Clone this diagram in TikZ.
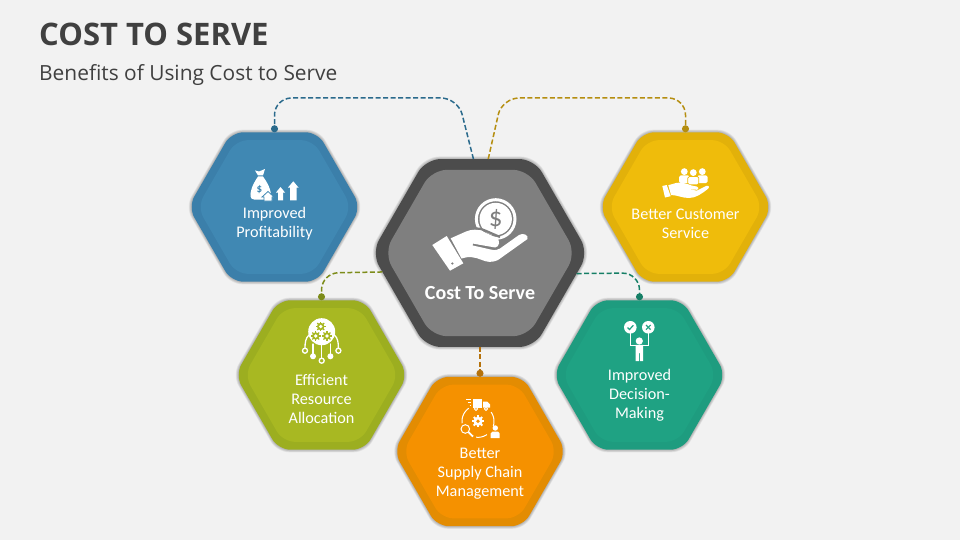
\documentclass[tikz,border=0pt]{standalone}
\usepackage{fontspec}
\setmainfont{Carlito}
\newfontfamily\headfont{Open Sans}
\usetikzlibrary{shapes.geometric,arrows.meta}

\definecolor{pagebg}{HTML}{F2F2F2}
\definecolor{headcol}{HTML}{404040}
\definecolor{blueout}{HTML}{3B7FAA}
\definecolor{bluein}{HTML}{4088B3}
\definecolor{blueline}{HTML}{2A6A8C}
\definecolor{yellowout}{HTML}{E2B10A}
\definecolor{yellowin}{HTML}{EFBC0B}
\definecolor{yellowline}{HTML}{B58E10}
\definecolor{greenout}{HTML}{9CAE20}
\definecolor{greenin}{HTML}{A8B822}
\definecolor{greenline}{HTML}{7D8C1A}
\definecolor{orangeout}{HTML}{E38C02}
\definecolor{orangein}{HTML}{F59100}
\definecolor{orangeline}{HTML}{B5720C}
\definecolor{tealout}{HTML}{1E9C7F}
\definecolor{tealin}{HTML}{1FA283}
\definecolor{tealline}{HTML}{167F66}
\definecolor{costout}{HTML}{4C4C4C}
\definecolor{costin}{HTML}{7F7F7F}

\tikzset{
	hexshape/.style={regular polygon,regular polygon sides=6,inner sep=0pt,outer sep=0pt},
	hexlabel/.style={text=white,align=center,font=\fontsize{16.2}{19}\selectfont},
	linkline/.style={line width=1.5pt,dash pattern=on 5pt off 2.5pt,rounded corners=17pt,-{Circle[length=7pt,width=7pt]}},
	stemline/.style={line width=1.3pt,white,line cap=round},
}

\newcommand{\hexblock}[7]{
	\foreach \grow in {.6,1.2,1.8,2.4,3}
		\node[hexshape,fill=black,fill opacity=.055,rounded corners=#6pt,minimum size=#3pt+\grow*2pt] at #2 {};
	\node[hexshape,fill=#4,rounded corners=#6pt,minimum size=#3pt] (#1) at #2 {};
	\node[hexshape,fill=#5,rounded corners=#6pt,minimum size=#3pt*#7] (#1in) at #2 {};
}

\begin{document}
\begin{tikzpicture}[x=1pt,y=-1pt]
	\useasboundingbox[fill=pagebg] (0,0) rectangle (960,540);

	\node[anchor=base west,inner sep=0pt,text=headcol,font=\headfont\bfseries\fontsize{31}{36}\selectfont] (title) at (39,46) {COST TO SERVE};
	\node[anchor=base west,inner sep=0pt,text=headcol,font=\headfont\fontsize{20.9}{24}\selectfont] (subtitle) at (39,80.5) {Benefits of Using Cost to Serve};

	\hexblock{blue}{(274.5,207)}{172.5}{blueout}{bluein}{12}{.895}
	\hexblock{yellow}{(685.5,207)}{172.5}{yellowout}{yellowin}{12}{.895}
	\hexblock{green}{(321.5,375)}{172.5}{greenout}{greenin}{12}{.895}
	\hexblock{orange}{(480,451.5)}{172.5}{orangeout}{orangein}{12}{.895}
	\hexblock{teal}{(639.5,375)}{172.5}{tealout}{tealin}{12}{.895}
	\hexblock{cost}{(480,253)}{217}{costout}{costin}{15}{.885}

	\coordinate (blueturn) at (458,98);
	\coordinate (blueover) at (274.5,98);
	\coordinate (yellowturn) at (502,98);
	\coordinate (yellowover) at (685.5,98);
	\coordinate (greenover) at (321.5,273);
	\coordinate (tealover) at (639.5,273);
	\coordinate (truckring) at (478,421.3);
	\draw[linkline,draw=blueline,blueline] (cost.94.3) -- (blueturn) -- (blueover) -- (blue.north);
	\draw[linkline,draw=yellowline,yellowline] (cost.85.7) -- (yellowturn) -- (yellowover) -- (yellow.north);
	\draw[linkline,draw=greenline,greenline] (cost.191.65) -- (greenover) -- (green.north);
	\draw[linkline,draw=tealline,tealline] (cost.348.35) -- (tealover) -- (teal.north);
	\draw[linkline,draw=orangeline,orangeline] (cost.south) -- (orange.north);

	\node[hexlabel] (bluetext) at (274.5,224) {Improved\\Profitability};
	\node[hexlabel] (yellowtext) at (685.5,224) {Better Customer\\Service};
	\node[hexlabel] (greentext) at (321.5,399) {Efficient\\Resource\\Allocation};
	\node[hexlabel] (orangetext) at (480,473.5) {Better\\Supply Chain\\Management};
	\node[hexlabel] (tealtext) at (639.5,395.5) {Improved\\Decision-\\Making};
	\node[text=white,font=\bfseries\fontsize{20}{22}\selectfont] (costtext) at (480,293.5) {Cost To Serve};

	% hand with coin
	\draw[white,line width=3pt] (495.7,219) circle (19.3);
	\fill[white] (495.7,219) circle (16.2);
	\node[text=costin,font=\fontsize{27}{27}\selectfont] (costsign) at (495.7,219) {\$};
	\fill[white] (432.3,245) -- (446.7,236) -- (463.3,263.3) -- (450,270.7) -- cycle;
	\fill[costin] (452.3,263.5) circle (1.2);
	\draw[costin,line width=2.2pt] (464,231) .. controls (472,227.5) and (478,227.5) .. (485,230.5) -- (500,237);
	\fill[white] (450.7,238.3) -- (466,231.5) .. controls (472,229) and (478,229) .. (484,232) -- (497,238) .. controls (500,240) and (500,247) .. (495,247.5) -- (473,243.6) -- (472.5,245.4) -- (491,249.6) .. controls (495,250.5) and (498,250) .. (500,248.5) -- (519,235) .. controls (523,232.5) and (529,235) .. (527.5,239) -- (498,260) .. controls (491,263) and (487,262) .. (482,260) .. controls (475,257) and (468,256) .. (461.5,258.5) -- cycle;

	% money bag with arrows
	\fill[white] (255,170.5) -- (259,171.5) -- (265,169) -- (263,175.5) -- (258,175.5) -- cycle;
	\fill[white] (258,176.5) -- (263,176.5) .. controls (267,182) and (272,190) .. (271,199.5) -- (254,199.5) .. controls (250,199.5) and (250,195) .. (251,191) .. controls (252,186) and (255,181) .. (258,176.5) -- cycle;
	\node[text=bluein,font=\bfseries\fontsize{11}{11}\selectfont] (bagsign) at (259.5,190) {\$};
	\filldraw[white,draw=bluein,line width=.8pt] (262,197) -- (268,191.5) -- (274,197) -- (272,197) -- (272,201) -- (264,201) -- (264,197) -- cycle;
	\fill[white] (280.5,187) -- (285,192.5) -- (283,192.5) -- (283,200.3) -- (278,200.3) -- (278,192.5) -- (276,192.5) -- cycle;
	\fill[white] (293.3,181.3) -- (298.5,187.5) -- (296.5,187.5) -- (296.5,200.3) -- (290,200.3) -- (290,187.5) -- (288,187.5) -- cycle;

	% people on a hand
	\foreach \px/\py in {684.3/171.6,702.3/171.6} {
		\fill[white] (\px,\py) circle (3.4);
		\fill[white,rounded corners=1.5pt] (\px-5.2,\py+3.8) rectangle (\px+5.2,\py+11.5);
	}
	\fill[white] (693.3,172.6) circle (3.4);
	\filldraw[white,draw=yellowin,line width=.7pt,rounded corners=1.5pt] (687.8,176.5) rectangle (698.8,184.8);
	\fill[white] (662.3,186) -- (666.7,185) -- (670.7,196.2) -- (665,197.5) -- cycle;
	\fill[white] (668.3,185.2) -- (676,183) .. controls (681,181.8) and (686,183.5) .. (692,185.6) -- (697,186.6) .. controls (699,187) and (699,189.4) .. (697,189.8) -- (686,189) -- (697,190.6) -- (706,186) .. controls (708.5,185) and (710,187) .. (708,188.8) .. controls (702,193.5) and (696,198) .. (689,198) .. controls (682,198) and (677,195) .. (671,195) -- cycle;

	% gears and circuit
	\fill[white] (321.7,331.7) circle (13.5);
	\foreach \gx/\gy in {320.7/326.5,315.7/336,326.9/336} {
		\foreach \ang in {0,45,...,315}
			\draw[greenin,line width=1.2pt] (\gx,\gy) -- ++(\ang:4.9);
		\fill[greenin] (\gx,\gy) circle (3.7);
		\fill[white] (\gx,\gy) circle (1.9);
	}
	\draw[stemline] (321.7,345) -- (321.7,358);
	\draw[stemline] (313,344) -- (313,354);
	\draw[stemline] (330.4,344) -- (330.4,354);
	\draw[stemline] (309,335) .. controls (305.5,338) and (305,343) .. (305,348);
	\draw[stemline] (334.4,335) .. controls (337.9,338) and (338.4,343) .. (338.4,348);
	\fill[white] (313,356.3) circle (3);
	\fill[white] (330.4,356.3) circle (3);
	\draw[white,line width=1.3pt,fill=greenin] (321.7,360.7) circle (2.5);
	\draw[white,line width=1.3pt,fill=greenin] (305,350.7) circle (2.5);
	\draw[white,line width=1.3pt,fill=greenin] (338.4,350.7) circle (2.5);

	% truck, gear, lens and person
	\fill[white] (473,399) rectangle (482.3,407.5);
	\fill[white] (483.2,401.5) -- (487,401.5) -- (490,404.5) -- (490,407.5) -- (483.2,407.5) -- cycle;
	\draw[white,line width=.9pt,fill=orangein] (476,408.8) circle (1.6);
	\draw[white,line width=.9pt,fill=orangein] (486,408.8) circle (1.6);
	\draw[white,line width=.8pt] (466.3,399.7) -- (471.3,399.7);
	\draw[white,line width=.8pt] (468,402.3) -- (471.3,402.3);
	\draw[white,line width=.8pt] (469.7,405) -- (471.3,405);
	\draw[smooth,white,line width=1pt] plot[domain=173:235,samples=12] ({478+16*cos(\x)},{421.3+16*sin(\x)});
	\draw[smooth,white,line width=1pt] plot[domain=-35:17,samples=12] ({478+16*cos(\x)},{421.3+16*sin(\x)});
	\draw[smooth,white,line width=1pt] plot[domain=56:97,samples=8] ({478+16*cos(\x)},{421.3+16*sin(\x)});
	\foreach \ang in {0,45,...,315}
		\draw[white,line width=2pt] (truckring) -- ++(\ang:6);
	\fill[white] (truckring) circle (4.6);
	\fill[orangein] (truckring) circle (1.9);
	\draw[white,line width=1pt] (465.3,429) circle (4.3);
	\draw[white,line width=1.8pt] (468.5,432.2) -- (473,436.5);
	\fill[white] (495.3,428) circle (2.7);
	\fill[white] (490.7,438) -- (490.7,433.5) -- (492.5,431.5) -- (498,431.5) -- (499.7,433.5) -- (499.7,438) -- cycle;

	% person with signs
	\fill[white] (630.3,327.3) circle (6.3);
	\fill[white] (648.3,327.3) circle (6.3);
	\draw[tealin,line width=1.2pt] (627.5,327.5) -- (629.5,329.5) -- (633.3,325.3);
	\draw[tealin,line width=1.2pt] (646,325) -- (650.6,329.6);
	\draw[tealin,line width=1.2pt] (650.6,325) -- (646,329.6);
	\fill[white] (639.3,341) circle (3.6);
	\draw[white,line width=1.5pt] (630.3,333) -- (630.3,345.5) -- (636,345.5);
	\draw[white,line width=1.5pt] (648.3,333) -- (648.3,345.5) -- (642.6,345.5);
	\fill[white] (635.5,344.8) -- (643.1,344.8) -- (643.1,361) -- (639.9,361) -- (639.9,353) -- (638.8,353) -- (638.8,361) -- (635.5,361) -- cycle;
\end{tikzpicture}
\end{document}
